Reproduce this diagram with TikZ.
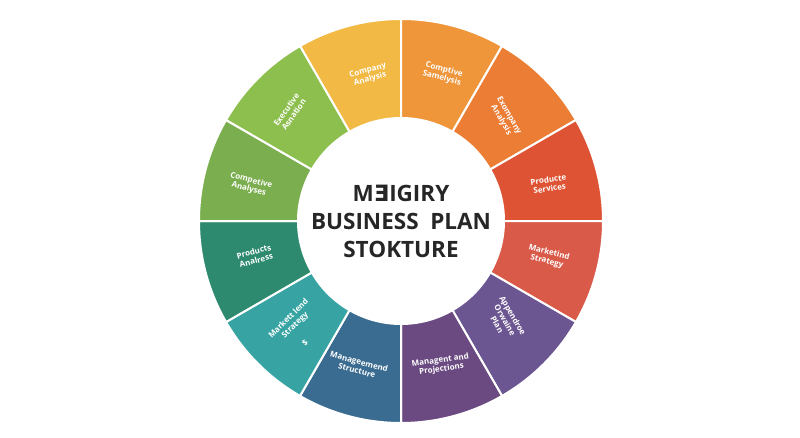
\documentclass[tikz,border=0pt]{standalone}
\usepackage{fontspec}
\setmainfont{Open Sans}
\newfontfamily\djv{DejaVu Sans}
\usetikzlibrary{calc}
\begin{document}
\begin{tikzpicture}[x=1pt,y=1pt,
  seg/.style={draw=white,line width=2pt},
  lbl/.style={text=white,font=\bfseries\fontsize{8}{9}\selectfont,align=center},
  ttl/.style={text=black!85,font=\bfseries\fontsize{22.5}{28}\selectfont,align=center}]
\useasboundingbox (0,0) rectangle (800,437);
\fill[white] (0,0) rectangle (800,437);
\coordinate (c) at (401,216);
\def\Ro{202}\def\Ri{103}
\foreach \a/\col in {90/F2B945,60/EF953A,30/EC7D34,0/DD5333,-30/D95A48,-60/6C5692,-90/6A4A80,-120/3A6C92,-150/37A4A3,180/2D8A6E,150/7BAE4F,120/8DBF4E}{
  \definecolor{tmp}{HTML}{\col}
  \filldraw[seg,fill=tmp] ($(c)+(\a:\Ri)$) -- ($(c)+(\a:\Ro)$) arc[start angle=\a,end angle=\a+30,radius=\Ro] -- ($(c)+(\a+30:\Ri)$) arc[start angle=\a+30,end angle=\a,radius=\Ri] -- cycle;
}
\fill[white] (c) circle (\Ri);
\node[lbl,rotate=15] (l1) at (369,362) {Company\\Analysis};
\node[lbl,rotate=-15] (l2) at (443,363) {Comptive\\Samelysis};
\node[lbl,rotate=-60] (l3) at (505,319) {Exompany\\Analysis};
\node[lbl,rotate=8] (l4) at (549,253) {Producte\\Services};
\node[lbl,rotate=-15] (l5) at (548,180) {Marketind\\Strategy};
\node[lbl,rotate=-60] (l6) at (505,117) {Appendroe\\Orwaine\\Plan};
\node[lbl,rotate=8] (l7) at (441,72) {Managent and\\Projections};
\node[lbl,rotate=-15] (l8) at (358,71) {Manageemend\\Structure};
\node[lbl,rotate=45] (l9) at (292,115) {Markett lend\\Strategy};
\node[lbl,rotate=45] (l9b) at (305,94) {\$};
\node[lbl,rotate=15] (l10) at (255,181) {Products\\Analress};
\node[lbl,rotate=-15] (l11) at (250,252) {Competive\\Analyses};
\node[lbl,rotate=55] (l12) at (290,325) {Executive\\Asnation};
\node[ttl] (t) at (401,216) {M{\djv Ǝ}IGIRY\\BUSINESS\ \ PLAN\\STOKTURE};
\end{tikzpicture}
\end{document}
